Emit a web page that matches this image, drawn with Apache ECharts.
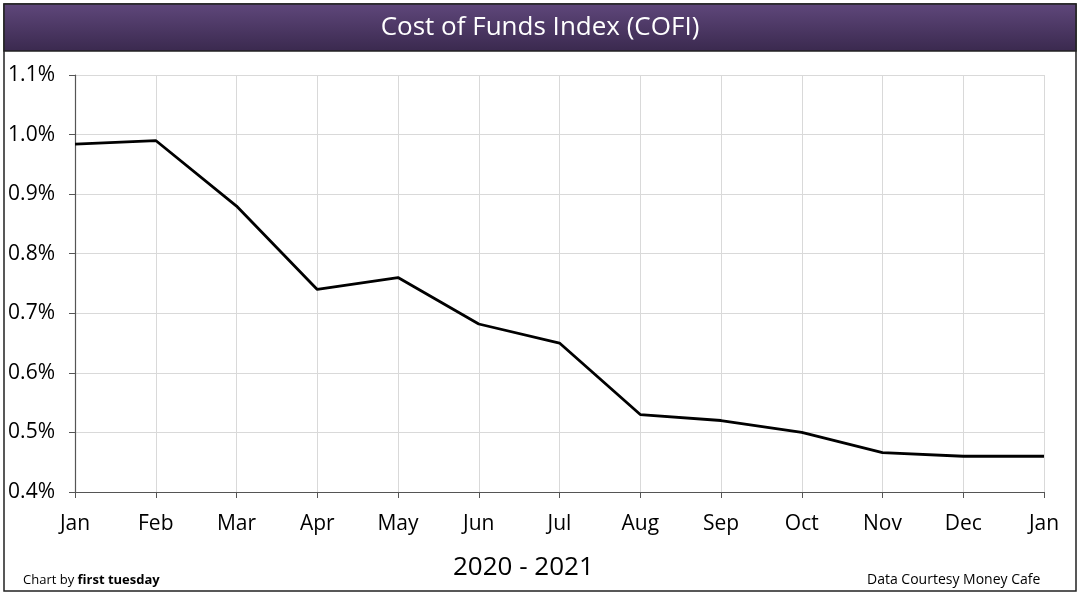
<!DOCTYPE html>
<html><head><meta charset="utf-8">
<script src="https://cdn.jsdelivr.net/npm/echarts@6/dist/echarts.min.js"></script>
<style>html,body{margin:0;padding:0;background:#fff}#c{width:1080px;height:595px}</style>
</head><body><div id="c"></div>
<script>
const categories = ['Jan','Feb','Mar','Apr','May','Jun','Jul','Aug','Sep','Oct','Nov','Dec','Jan'];
const cofi = [0.984,0.990,0.880,0.740,0.760,0.682,0.650,0.530,0.520,0.500,0.466,0.460,0.460];
const yTicks = [0.4,0.5,0.6,0.7,0.8,0.9,1.0,1.1];
const FONT = '"Open Sans", "Liberation Sans", sans-serif';
const chart = echarts.init(document.getElementById('c'));
chart.setOption({
  animation:false,
  backgroundColor:'#fff',
  graphic:[
    {type:'rect', z:-10, shape:{x:4,y:4,width:1072,height:587}, style:{fill:'#fff', stroke:'#222', lineWidth:1.5}},
    {type:'rect', z:-9, shape:{x:4,y:4,width:1072,height:47}, style:{
      fill:new echarts.graphic.LinearGradient(0,0,0,1,[{offset:0,color:'#5f477b'},{offset:1,color:'#3a294e'}]),
      stroke:'#222', lineWidth:1.5}}
  ],
  title:[
    {text:'Cost of Funds Index (COFI)', left:'center', top:10, textStyle:{color:'#fff', fontSize:26, fontWeight:'normal', fontFamily:FONT}},
    {text:'2020 - 2021', left:448, top:550, textStyle:{color:'#000', fontSize:26, fontWeight:'normal', fontFamily:FONT}},
    {text:'{a|Chart by }{b|first tuesday}', left:18, top:569, textStyle:{fontWeight:'normal', rich:{a:{fontSize:13,fontWeight:'normal',color:'#000',fontFamily:FONT},b:{fontSize:13,fontWeight:'bold',color:'#000',fontFamily:FONT}}}},
    {text:'Data Courtesy Money Cafe', left:862, top:568, textStyle:{color:'#000', fontSize:14, fontWeight:'normal', fontFamily:FONT}}
  ],
  grid:{left:75, right:36, top:75, bottom:103},
  xAxis:{
    type:'category', data:categories, boundaryGap:false,
    axisLine:{lineStyle:{color:'#555', width:1.2}},
    axisTick:{show:true, length:6, lineStyle:{color:'#555'}},
    axisLabel:{color:'#000', fontSize:21, margin:22, fontFamily:FONT},
    splitLine:{show:true, lineStyle:{color:'#d9d9d9', width:1}}
  },
  yAxis:{
    type:'value', min:yTicks[0], max:yTicks[yTicks.length-1], interval:0.1,
    axisLine:{show:true, lineStyle:{color:'#555', width:1.2}},
    axisTick:{show:true, length:6, lineStyle:{color:'#555'}},
    axisLabel:{color:'#000', fontSize:21, margin:20, fontFamily:FONT,
      formatter:v=>v.toFixed(1)+'%'},
    splitLine:{show:true, lineStyle:{color:'#d9d9d9', width:1}}
  },
  series:[{type:'line', data:cofi, symbol:'none', lineStyle:{color:'#000', width:2.8}}]
});
</script></body></html>
